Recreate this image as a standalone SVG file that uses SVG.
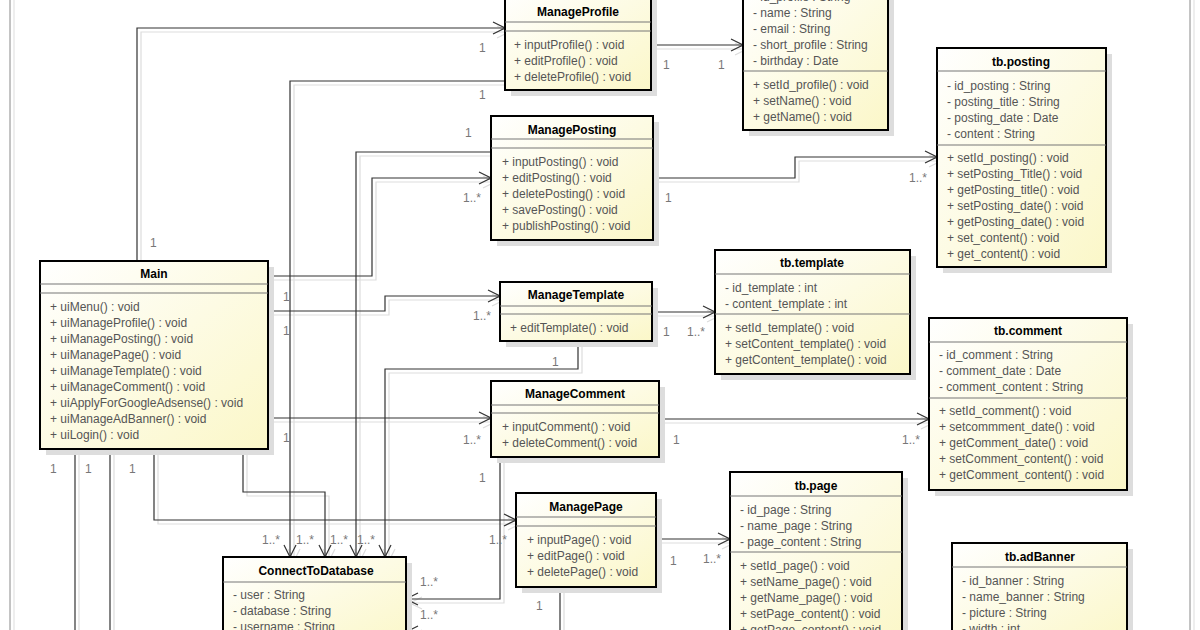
<svg xmlns="http://www.w3.org/2000/svg" xmlns:xlink="http://www.w3.org/1999/xlink" width="1200" height="630" viewBox="0 0 1200 630">
<defs>
<linearGradient id="g" x1="0" y1="0" x2="1" y2="1"><stop offset="0" stop-color="#ffffff"/><stop offset="1" stop-color="#fbf7c8"/></linearGradient>
<marker id="a" markerWidth="14" markerHeight="14" refX="13" refY="7" orient="auto" markerUnits="userSpaceOnUse"><path d="M1,1 L13,7 L1,13" fill="none" stroke="#333" stroke-width="1.2"/></marker>
<marker id="as" markerWidth="14" markerHeight="14" refX="13" refY="7" orient="auto" markerUnits="userSpaceOnUse"><path d="M1,1 L13,7 L1,13" fill="none" stroke="#ddd" stroke-width="1.2"/></marker>
<style>
.box{fill:url(#g);stroke:#000;stroke-width:2}
.sh{fill:#ddd}
.sep{stroke:#777;stroke-width:1.2}
.t{font-family:"Liberation Sans",Arial,sans-serif;font-size:12px;font-weight:bold;fill:#000;text-anchor:middle}
.m{font-family:"Liberation Sans",Arial,sans-serif;font-size:12px;fill:#555}
.l{font-family:"Liberation Sans",Arial,sans-serif;font-size:12px;fill:#777}
#c path{fill:none;stroke:#333;stroke-width:1.2;marker-end:url(#a)}
#c path.n{marker-end:none}
#cs path{fill:none;stroke:#ddd;stroke-width:1.2;marker-end:url(#as)}
#cs path.n{marker-end:none}
</style>
</defs>
<rect width="1200" height="630" fill="#fff"/>
<line x1="10" y1="0" x2="10" y2="630" stroke="#888"/><line x1="14" y1="0" x2="14" y2="630" stroke="#ddd"/>
<line x1="1190" y1="0" x2="1190" y2="630" stroke="#888"/><line x1="1194" y1="0" x2="1194" y2="630" stroke="#ddd"/>

<g id="cs" transform="translate(4,4)">
<path d="M137,261 V28 H505"/>
<path d="M505,81 H290 V557"/>
<path d="M491,152 H356 V557"/>
<path d="M268,276 H372 V178 H491"/>
<path d="M268,311 H385 V296 H500"/>
<path d="M578,341 V369 H385 V557"/>
<path d="M268,418 H491"/>
<path d="M500,457 V599 H406"/>
<path d="M154,449 V520 H516"/>
<path d="M560,587 V632 H406"/>
<path d="M243,449 V492 H325 V557"/>
<path class="n" d="M75,449 V640"/>
<path class="n" d="M110,449 V640"/>
<path d="M651,45 H743"/>
<path d="M653,178 H795 V157 H937"/>
<path d="M652,312 H715"/>
<path d="M659,419 H929"/>
<path d="M656,539 H730"/>
</g>
<g id="c">
<path d="M137,261 V28 H505"/>
<path d="M505,81 H290 V557"/>
<path d="M491,152 H356 V557"/>
<path d="M268,276 H372 V178 H491"/>
<path d="M268,311 H385 V296 H500"/>
<path d="M578,341 V369 H385 V557"/>
<path d="M268,418 H491"/>
<path d="M500,457 V599 H406"/>
<path d="M154,449 V520 H516"/>
<path d="M560,587 V632 H406"/>
<path d="M243,449 V492 H325 V557"/>
<path class="n" d="M75,449 V640"/>
<path class="n" d="M110,449 V640"/>
<path d="M651,45 H743"/>
<path d="M653,178 H795 V157 H937"/>
<path d="M652,312 H715"/>
<path d="M659,419 H929"/>
<path d="M656,539 H730"/>
</g>
<g id="labels" class="l">
<text x="150" y="247">1</text><text x="479" y="52">1</text>
<text x="479" y="99">1</text><text x="262" y="544">1..*</text>
<text x="465" y="137">1</text><text x="330" y="544">1..*</text>
<text x="283" y="301">1</text><text x="463" y="202">1..*</text>
<text x="283" y="335">1</text><text x="473" y="320">1..*</text>
<text x="552" y="366">1</text><text x="357" y="544">1..*</text>
<text x="283" y="442">1</text><text x="463" y="444">1..*</text>
<text x="479" y="482">1</text><text x="420" y="586">1..*</text>
<text x="129" y="473">1</text><text x="489" y="544">1..*</text>
<text x="536" y="610">1</text><text x="420" y="619">1..*</text>
<text x="296" y="544">1..*</text>
<text x="50" y="473">1</text><text x="85" y="473">1</text>
<text x="663" y="69">1</text><text x="718" y="69">1</text>
<text x="665" y="202">1</text><text x="909" y="182">1..*</text>
<text x="663" y="336">1</text><text x="687" y="336">1..*</text>
<text x="673" y="444">1</text><text x="902" y="444">1..*</text>
<text x="670" y="565">1</text><text x="703" y="563">1..*</text>
</g>

<g id="ManageProfile"><rect class="sh" x="511" y="-4" width="146" height="100"/><rect class="box" x="505" y="-10" width="146" height="100"/>
<text class="t" x="578" y="16">ManageProfile</text><line class="sep" x1="505" y1="22" x2="651" y2="22"/><line class="sep" x1="505" y1="31" x2="651" y2="31"/>
<text class="m" x="514" y="49">+ inputProfile() : void</text><text class="m" x="514" y="65">+ editProfile() : void</text><text class="m" x="514" y="81">+ deleteProfile() : void</text></g>

<g id="tb.profile"><rect class="sh" x="749" y="-4" width="145" height="140"/><rect class="box" x="743" y="-10" width="145" height="140"/>
<text class="m" x="753" y="1">- id_profile : String</text>
<text class="m" x="753" y="17">- name : String</text><text class="m" x="753" y="33">- email : String</text><text class="m" x="753" y="49">- short_profile : String</text><text class="m" x="753" y="65">- birthday : Date</text>
<line class="sep" x1="743" y1="71" x2="888" y2="71"/>
<text class="m" x="753" y="89">+ setId_profile() : void</text><text class="m" x="753" y="105">+ setName() : void</text><text class="m" x="753" y="121">+ getName() : void</text></g>

<g id="tb.posting"><rect class="sh" x="943" y="54" width="169" height="219"/><rect class="box" x="937" y="48" width="169" height="219"/>
<text class="t" x="1021" y="66">tb.posting</text><line class="sep" x1="937" y1="71" x2="1106" y2="71"/>
<text class="m" x="947" y="90">- id_posting : String</text><text class="m" x="947" y="106">- posting_title : String</text><text class="m" x="947" y="122">- posting_date : Date</text><text class="m" x="947" y="138">- content : String</text>
<line class="sep" x1="937" y1="145" x2="1106" y2="145"/>
<text class="m" x="947" y="162">+ setId_posting() : void</text><text class="m" x="947" y="178">+ setPosting_Title() : void</text><text class="m" x="947" y="194">+ getPosting_title() : void</text><text class="m" x="947" y="210">+ setPosting_date() : void</text><text class="m" x="947" y="226">+ getPosting_date() : void</text><text class="m" x="947" y="242">+ set_content() : void</text><text class="m" x="947" y="258">+ get_content() : void</text></g>

<g id="ManagePosting"><rect class="sh" x="497" y="122" width="162" height="124"/><rect class="box" x="491" y="116" width="162" height="124"/>
<text class="t" x="572" y="134">ManagePosting</text><line class="sep" x1="491" y1="139" x2="653" y2="139"/><line class="sep" x1="491" y1="148" x2="653" y2="148"/>
<text class="m" x="502" y="166">+ inputPosting() : void</text><text class="m" x="502" y="182">+ editPosting() : void</text><text class="m" x="502" y="198">+ deletePosting() : void</text><text class="m" x="502" y="214">+ savePosting() : void</text><text class="m" x="502" y="230">+ publishPosting() : void</text></g>

<g id="Main"><rect class="sh" x="46" y="267" width="228" height="188"/><rect class="box" x="40" y="261" width="228" height="188"/>
<text class="t" x="154" y="278">Main</text><line class="sep" x1="40" y1="284" x2="268" y2="284"/><line class="sep" x1="40" y1="293" x2="268" y2="293"/>
<text class="m" x="50" y="311">+ uiMenu() : void</text><text class="m" x="50" y="327">+ uiManageProfile() : void</text><text class="m" x="50" y="343">+ uiManagePosting() : void</text><text class="m" x="50" y="359">+ uiManagePage() : void</text><text class="m" x="50" y="375">+ uiManageTemplate() : void</text><text class="m" x="50" y="391">+ uiManageComment() : void</text><text class="m" x="50" y="407">+ uiApplyForGoogleAdsense() : void</text><text class="m" x="50" y="423">+ uiManageAdBanner() : void</text><text class="m" x="50" y="439">+ uiLogin() : void</text></g>

<g id="ManageTemplate"><rect class="sh" x="506" y="288" width="152" height="59"/><rect class="box" x="500" y="282" width="152" height="59"/>
<text class="t" x="576" y="299">ManageTemplate</text><line class="sep" x1="500" y1="306" x2="652" y2="306"/><line class="sep" x1="500" y1="314" x2="652" y2="314"/>
<text class="m" x="510" y="332">+ editTemplate() : void</text></g>

<g id="tb.template"><rect class="sh" x="721" y="256" width="195" height="124"/><rect class="box" x="715" y="250" width="195" height="124"/>
<text class="t" x="812" y="267">tb.template</text><line class="sep" x1="715" y1="274" x2="910" y2="274"/>
<text class="m" x="725" y="292">- id_template : int</text><text class="m" x="725" y="308">- content_template : int</text>
<line class="sep" x1="715" y1="314" x2="910" y2="314"/>
<text class="m" x="725" y="332">+ setId_template() : void</text><text class="m" x="725" y="348">+ setContent_template() : void</text><text class="m" x="725" y="364">+ getContent_template() : void</text></g>

<g id="tb.comment"><rect class="sh" x="935" y="324" width="198" height="172"/><rect class="box" x="929" y="318" width="198" height="172"/>
<text class="t" x="1028" y="335">tb.comment</text><line class="sep" x1="929" y1="342" x2="1127" y2="342"/>
<text class="m" x="939" y="359">- id_comment : String</text><text class="m" x="939" y="375">- comment_date : Date</text><text class="m" x="939" y="391">- comment_content : String</text>
<line class="sep" x1="929" y1="398" x2="1127" y2="398"/>
<text class="m" x="939" y="415">+ setId_comment() : void</text><text class="m" x="939" y="431">+ setcommment_date() : void</text><text class="m" x="939" y="447">+ getComment_date() : void</text><text class="m" x="939" y="463">+ setComment_content() : void</text><text class="m" x="939" y="479">+ getComment_content() : void</text></g>

<g id="ManageComment"><rect class="sh" x="497" y="387" width="168" height="76"/><rect class="box" x="491" y="381" width="168" height="76"/>
<text class="t" x="575" y="398">ManageComment</text><line class="sep" x1="491" y1="405" x2="659" y2="405"/><line class="sep" x1="491" y1="413" x2="659" y2="413"/>
<text class="m" x="502" y="431">+ inputComment() : void</text><text class="m" x="502" y="447">+ deleteComment() : void</text></g>

<g id="ManagePage"><rect class="sh" x="522" y="499" width="140" height="94"/><rect class="box" x="516" y="493" width="140" height="94"/>
<text class="t" x="586" y="511">ManagePage</text><line class="sep" x1="516" y1="517" x2="656" y2="517"/><line class="sep" x1="516" y1="526" x2="656" y2="526"/>
<text class="m" x="527" y="544">+ inputPage() : void</text><text class="m" x="527" y="560">+ editPage() : void</text><text class="m" x="527" y="576">+ deletePage() : void</text></g>

<g id="tb.page"><rect class="sh" x="736" y="478" width="172" height="170"/><rect class="box" x="730" y="472" width="172" height="170"/>
<text class="t" x="816" y="490">tb.page</text><line class="sep" x1="730" y1="496" x2="902" y2="496"/>
<text class="m" x="740" y="514">- id_page : String</text><text class="m" x="740" y="530">- name_page : String</text><text class="m" x="740" y="546">- page_content : String</text>
<line class="sep" x1="730" y1="552" x2="902" y2="552"/>
<text class="m" x="740" y="570">+ setId_page() : void</text><text class="m" x="740" y="586">+ setName_page() : void</text><text class="m" x="740" y="602">+ getName_page() : void</text><text class="m" x="740" y="618">+ setPage_content() : void</text><text class="m" x="740" y="634">+ getPage_content() : void</text></g>

<g id="tb.adBanner"><rect class="sh" x="958" y="549" width="175" height="100"/><rect class="box" x="952" y="543" width="175" height="100"/>
<text class="t" x="1040" y="561">tb.adBanner</text><line class="sep" x1="952" y1="567" x2="1127" y2="567"/>
<text class="m" x="962" y="585">- id_banner : String</text><text class="m" x="962" y="601">- name_banner : String</text><text class="m" x="962" y="617">- picture : String</text><text class="m" x="962" y="633">- width : int</text></g>

<g id="ConnectToDatabase"><rect class="sh" x="229" y="563" width="183" height="90"/><rect class="box" x="223" y="557" width="183" height="90"/>
<text class="t" x="316" y="575">ConnectToDatabase</text><line class="sep" x1="223" y1="582" x2="406" y2="582"/>
<text class="m" x="233" y="599">- user : String</text><text class="m" x="233" y="615">- database : String</text><text class="m" x="233" y="631">- username : String</text></g>
</svg>
